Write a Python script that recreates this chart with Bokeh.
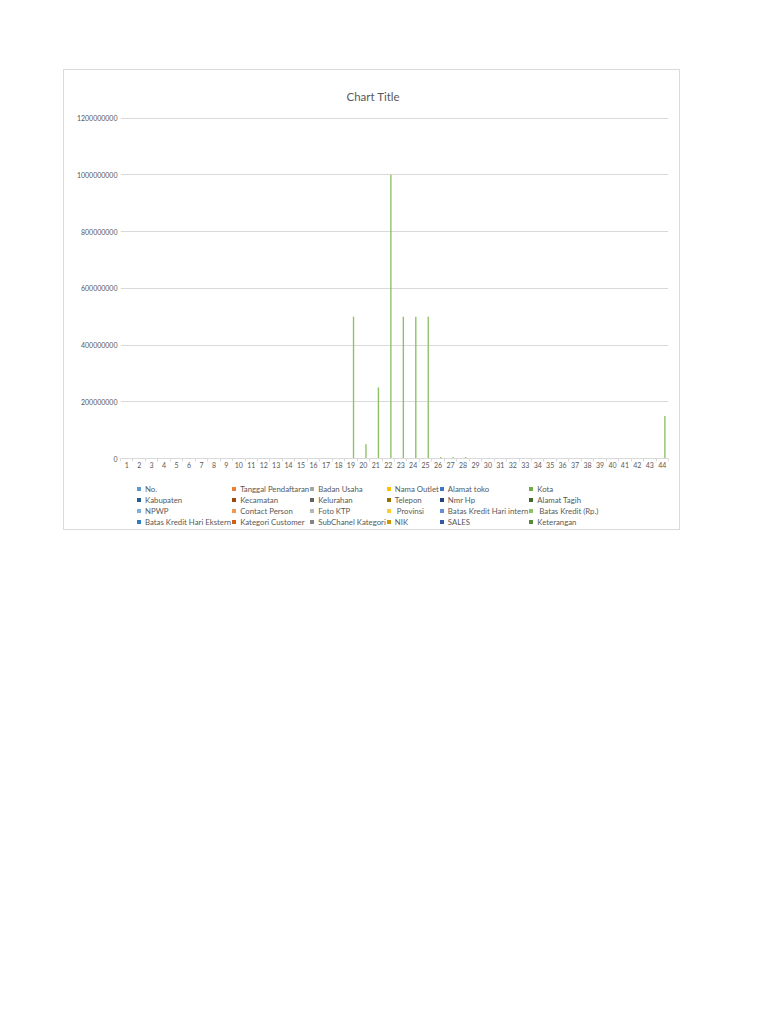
from bokeh.plotting import figure
from bokeh.layouts import column
from bokeh.models import (ColumnDataSource, Legend, LegendItem, FixedTicker,
                          NumeralTickFormatter, Range1d)
from bokeh.transform import dodge
from bokeh.embed import file_html
from bokeh.resources import INLINE

categories = list(range(1, 45))

series_names = [
    "No.", "Tanggal Pendaftaran", "Badan Usaha", "Nama Outlet", "Alamat toko", "Kota",
    "Kabupaten", "Kecamatan", "Kelurahan", "Telepon", "Nmr Hp", "Alamat Tagih",
    "NPWP", "Contact Person", "Foto KTP", " Provinsi", "Batas Kredit Hari intern", " Batas Kredit (Rp.)",
    "Batas Kredit Hari Ekstern", "Kategori Customer", "SubChanel Kategori", "NIK", "SALES", "Keterangan",
]
series_colors = [
    "#5B9BD5", "#ED7D31", "#A5A5A5", "#FFC000", "#4472C4", "#70AD47",
    "#255E91", "#9E480E", "#636363", "#997300", "#264478", "#43682B",
    "#7CAFDD", "#F1975A", "#B7B7B7", "#FFCD33", "#698ED0", "#8CC168",
    "#327DC2", "#D26012", "#848484", "#CC9A00", "#335AA1", "#5A8A39",
]

# only "Batas Kredit (Rp.)" has visible values
batas_kredit_rp = [
    0, 0, 0, 0, 0, 0, 0, 0, 0, 0, 0, 0, 0, 0, 0, 0, 0, 0,
    500000000, 50000000, 250000000, 1000000000, 500000000, 500000000, 500000000,
    5000000, 5000000, 5000000,
    0, 0, 0, 0, 0, 0, 0, 0, 0, 0, 0, 0, 0, 0, 0,
    150000000,
]
zero_values = [
    0, 0, 0, 0, 0, 0, 0, 0, 0, 0, 0, 0, 0, 0, 0, 0, 0, 0, 0, 0, 0, 0,
    0, 0, 0, 0, 0, 0, 0, 0, 0, 0, 0, 0, 0, 0, 0, 0, 0, 0, 0, 0, 0, 0,
]
y_ticks = [0, 200000000, 400000000, 600000000, 800000000, 1000000000, 1200000000]

FONT = "Lato"
TEXT = "#595959"
GRID = "#D9D9D9"

p = figure(width=615, height=408, x_range=Range1d(0.5, 44.5), y_range=Range1d(0, 1202000000),
           output_backend="svg", toolbar_location=None,
           min_border_left=56, min_border_right=11, min_border_top=47, min_border_bottom=20)
p.outline_line_color = None
p.xgrid.visible = False
p.ygrid.grid_line_color = GRID

p.title.text = "Chart Title"
p.title.align = "left"
p.title.offset = 226
p.title.standoff = 30
p.title.text_font = FONT
p.title.text_font_size = "11.5px"
p.title.text_font_style = "normal"
p.title.text_color = TEXT

# legend strip under the chart, inside the same bordered box;
# its y range sits above all values so no bar is drawn there
leg = figure(width=615, height=51, x_range=Range1d(0.5, 44.5), y_range=Range1d(2000000000, 3000000000),
             output_backend="svg", toolbar_location=None,
             x_axis_location=None, y_axis_location=None,
             min_border_left=0, min_border_right=0, min_border_top=0, min_border_bottom=0)
leg.outline_line_color = None
leg.grid.visible = False

n = len(series_names)
bar_w = 1 / (n + 2.19)
items = []
for i, (name, color) in enumerate(zip(series_names, series_colors)):
    vals = batas_kredit_rp if name == " Batas Kredit (Rp.)" else zero_values
    src = ColumnDataSource({"x": categories, "top": vals})
    xs = dodge("x", (i - (n - 1) / 2) * bar_w)
    p.vbar(x=xs, top="top", width=0.11, source=src, fill_color=color, line_color=None)
    r = leg.vbar(x=xs, top="top", width=0.11, source=src, fill_color=color, line_color=None)
    items.append(LegendItem(label=name, renderers=[r]))

p.yaxis.ticker = FixedTicker(ticks=y_ticks)
p.yaxis.formatter = NumeralTickFormatter(format="0")
p.yaxis.axis_line_color = None
p.yaxis.major_tick_line_color = None
p.yaxis.minor_tick_line_color = None
p.yaxis.major_tick_out = 0
p.yaxis.major_label_standoff = 3
p.yaxis.major_label_text_font = FONT
p.yaxis.major_label_text_font_size = "7px"
p.yaxis.major_label_text_color = TEXT

p.xaxis.ticker = FixedTicker(ticks=categories, minor_ticks=[c - 0.5 for c in categories] + [44.5])
p.xaxis.axis_line_color = GRID
p.xaxis.major_tick_line_color = None
p.xaxis.major_tick_out = 0
p.xaxis.minor_tick_line_color = GRID
p.xaxis.minor_tick_in = 0
p.xaxis.minor_tick_out = 3
p.xaxis.major_label_standoff = 0
p.xaxis.major_label_text_font = FONT
p.xaxis.major_label_text_font_size = "7px"
p.xaxis.major_label_text_color = TEXT

legend = Legend(items=items, orientation="horizontal", ncols=6, location=(16, 2),
                padding=0, margin=0, spacing=0, label_standoff=4,
                glyph_width=5, glyph_height=5, label_height=11,
                label_text_font=FONT, label_text_font_size="7.8px", label_text_color=TEXT,
                border_line_color=None, background_fill_alpha=0)
leg.add_layout(legend, "center")

box = column(p, leg, width=617, height=461, margin=(69, 0, 0, 63), spacing=0,
             styles={"border": "1px solid #D9D9D9", "box-sizing": "border-box"})

open("out.html", "w").write(file_html(box, INLINE))
